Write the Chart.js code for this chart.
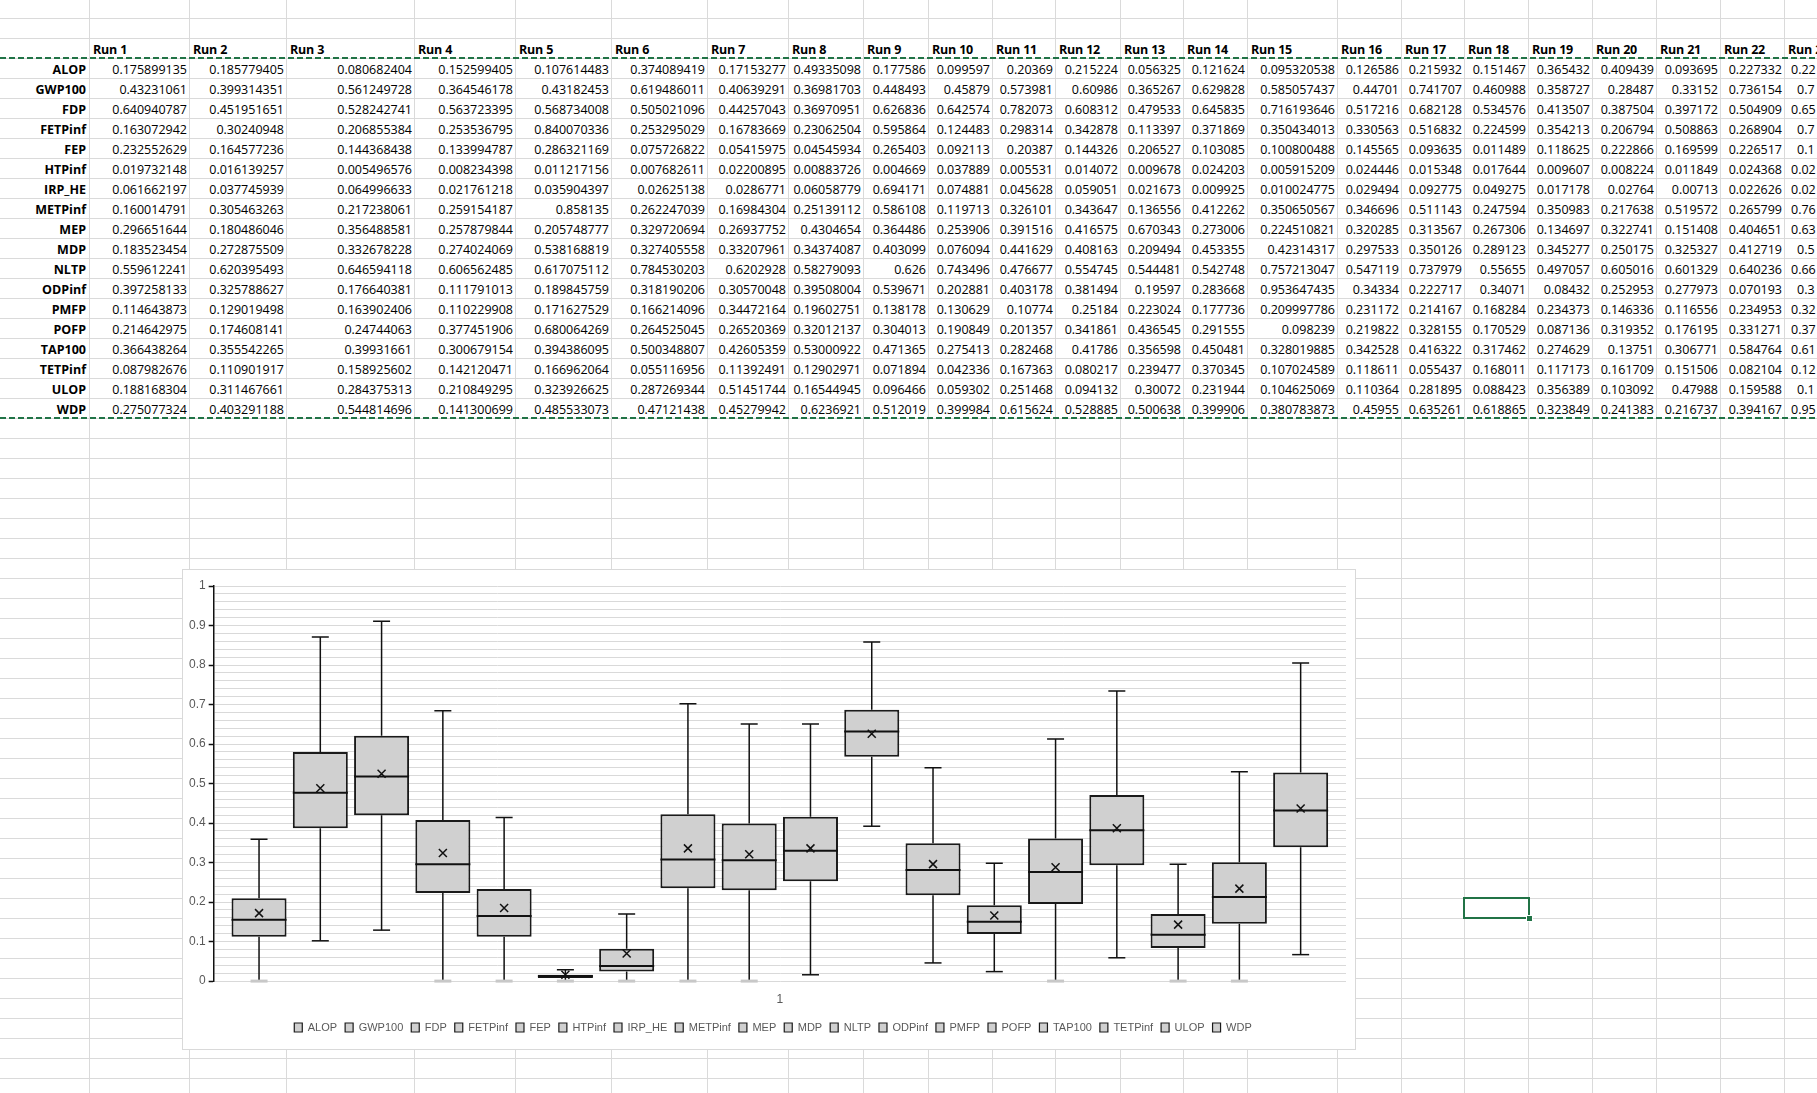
<!DOCTYPE html>
<html>
<head>
<meta charset="utf-8">
<title>Box and whisker – runs</title>
<script src="https://cdn.jsdelivr.net/npm/chart.js@4.4.1/dist/chart.umd.min.js"></script>
<style>
  html, body { margin: 0; padding: 0; background: #fff; overflow: hidden; }
  body { width: 1817px; height: 1093px; position: relative; font-family: 'Open Sans', sans-serif; }
  #sheet {
    position: absolute; left: 0; top: 0; width: 1817px; height: 1093px; overflow: hidden;
    background: repeating-linear-gradient(to bottom, transparent 0 18px, #dadada 18px 19px, transparent 19px 20px);
  }
  .vline { position: absolute; top: 0; width: 1px; height: 1093px; background: #dadada; }
  .cell {
    position: absolute; height: 20px; line-height: 23px; font-size: 12.5px; color: #000;
    white-space: nowrap; overflow: hidden; box-sizing: border-box;
  }
  .num { text-align: right; padding-right: 2px; }
  .head { font-weight: bold; padding-left: 3px; letter-spacing: -0.2px; }
  .rowlab { font-weight: bold; text-align: right; padding-right: 3px; }
  .cut { text-align: left; }
  .marquee {
    position: absolute; left: 0; width: 1817px; height: 2px;
    background: repeating-linear-gradient(to right, #217346 0 6px, transparent 6px 9px);
  }
  #chartBox {
    position: absolute; left: 182px; top: 569px; width: 1174px; height: 481px;
    box-sizing: border-box; border: 1px solid #d9d9d9; background: #fff;
  }
  #sel {
    position: absolute; left: 1463px; top: 897px; width: 67px; height: 22px;
    box-sizing: border-box; border: 2px solid #217346;
  }
  #selHandle {
    position: absolute; right: -5px; bottom: -5px; width: 5px; height: 5px;
    background: #217346; border: 1px solid #fff;
  }
</style>
</head>
<body>
<div id="sheet"></div>
<div class="marquee" style="top:57px"></div>
<div class="marquee" style="top:417px"></div>
<div id="chartBox"><canvas id="boxChart"></canvas></div>
<div id="sel"><div id="selHandle"></div></div>

<script>
// ---- data ----
const indicators = ['ALOP', 'GWP100', 'FDP', 'FETPinf', 'FEP', 'HTPinf', 'IRP_HE', 'METPinf', 'MEP',
  'MDP', 'NLTP', 'ODPinf', 'PMFP', 'POFP', 'TAP100', 'TETPinf', 'ULOP', 'WDP'];
const runLabels = ['Run 1', 'Run 2', 'Run 3', 'Run 4', 'Run 5', 'Run 6', 'Run 7', 'Run 8', 'Run 9', 'Run 10',
  'Run 11', 'Run 12', 'Run 13', 'Run 14', 'Run 15', 'Run 16', 'Run 17', 'Run 18', 'Run 19', 'Run 20',
  'Run 21', 'Run 22', 'Run 23'];

// table values, runs 1..22
const ALOP = [0.175899135, 0.185779405, 0.080682404, 0.152599405, 0.107614483, 0.374089419, 0.17153277, 0.49335098, 0.177586, 0.099597, 0.20369, 0.215224, 0.056325, 0.121624, 0.095320538, 0.126586, 0.215932, 0.151467, 0.365432, 0.409439, 0.093695, 0.227332];
const GWP100 = [0.43231061, 0.399314351, 0.561249728, 0.364546178, 0.43182453, 0.619486011, 0.40639291, 0.36981703, 0.448493, 0.45879, 0.573981, 0.60986, 0.365267, 0.629828, 0.585057437, 0.44701, 0.741707, 0.460988, 0.358727, 0.28487, 0.33152, 0.736154];
const FDP = [0.640940787, 0.451951651, 0.528242741, 0.563723395, 0.568734008, 0.505021096, 0.44257043, 0.36970951, 0.626836, 0.642574, 0.782073, 0.608312, 0.479533, 0.645835, 0.716193646, 0.517216, 0.682128, 0.534576, 0.413507, 0.387504, 0.397172, 0.504909];
const FETPinf = [0.163072942, 0.30240948, 0.206855384, 0.253536795, 0.840070336, 0.253295029, 0.16783669, 0.23062504, 0.595864, 0.124483, 0.298314, 0.342878, 0.113397, 0.371869, 0.350434013, 0.330563, 0.516832, 0.224599, 0.354213, 0.206794, 0.508863, 0.268904];
const FEP = [0.232552629, 0.164577236, 0.144368438, 0.133994787, 0.286321169, 0.075726822, 0.05415975, 0.04545934, 0.265403, 0.092113, 0.20387, 0.144326, 0.206527, 0.103085, 0.100800488, 0.145565, 0.093635, 0.011489, 0.118625, 0.222866, 0.169599, 0.226517];
const HTPinf = [0.019732148, 0.016139257, 0.005496576, 0.008234398, 0.011217156, 0.007682611, 0.02200895, 0.00883726, 0.004669, 0.037889, 0.005531, 0.014072, 0.009678, 0.024203, 0.005915209, 0.024446, 0.015348, 0.017644, 0.009607, 0.008224, 0.011849, 0.024368];
const IRP_HE = [0.061662197, 0.037745939, 0.064996633, 0.021761218, 0.035904397, 0.02625138, 0.0286771, 0.06058779, 0.694171, 0.074881, 0.045628, 0.059051, 0.021673, 0.009925, 0.010024775, 0.029494, 0.092775, 0.049275, 0.017178, 0.02764, 0.00713, 0.022626];
const METPinf = [0.160014791, 0.305463263, 0.217238061, 0.259154187, 0.858135, 0.262247039, 0.16984304, 0.25139112, 0.586108, 0.119713, 0.326101, 0.343647, 0.136556, 0.412262, 0.350650567, 0.346696, 0.511143, 0.247594, 0.350983, 0.217638, 0.519572, 0.265799];
const MEP = [0.296651644, 0.180486046, 0.356488581, 0.257879844, 0.205748777, 0.329720694, 0.26937752, 0.4304654, 0.364486, 0.253906, 0.391516, 0.416575, 0.670343, 0.273006, 0.224510821, 0.320285, 0.313567, 0.267306, 0.134697, 0.322741, 0.151408, 0.404651];
const MDP = [0.183523454, 0.272875509, 0.332678228, 0.274024069, 0.538168819, 0.327405558, 0.33207961, 0.34374087, 0.403099, 0.076094, 0.441629, 0.408163, 0.209494, 0.453355, 0.42314317, 0.297533, 0.350126, 0.289123, 0.345277, 0.250175, 0.325327, 0.412719];
const NLTP = [0.559612241, 0.620395493, 0.646594118, 0.606562485, 0.617075112, 0.784530203, 0.6202928, 0.58279093, 0.626, 0.743496, 0.476677, 0.554745, 0.544481, 0.542748, 0.757213047, 0.547119, 0.737979, 0.55655, 0.497057, 0.605016, 0.601329, 0.640236];
const ODPinf = [0.397258133, 0.325788627, 0.176640381, 0.111791013, 0.189845759, 0.318190206, 0.30570048, 0.39508004, 0.539671, 0.202881, 0.403178, 0.381494, 0.19597, 0.283668, 0.953647435, 0.34334, 0.222717, 0.34071, 0.08432, 0.252953, 0.277973, 0.070193];
const PMFP = [0.114643873, 0.129019498, 0.163902406, 0.110229908, 0.171627529, 0.166214096, 0.34472164, 0.19602751, 0.138178, 0.130629, 0.10774, 0.25184, 0.223024, 0.177736, 0.209997786, 0.231172, 0.214167, 0.168284, 0.234373, 0.146336, 0.116556, 0.234953];
const POFP = [0.214642975, 0.174608141, 0.24744063, 0.377451906, 0.680064269, 0.264525045, 0.26520369, 0.32012137, 0.304013, 0.190849, 0.201357, 0.341861, 0.436545, 0.291555, 0.098239, 0.219822, 0.328155, 0.170529, 0.087136, 0.319352, 0.176195, 0.331271];
const TAP100 = [0.366438264, 0.355542265, 0.39931661, 0.300679154, 0.394386095, 0.500348807, 0.42605359, 0.53000922, 0.471365, 0.275413, 0.282468, 0.41786, 0.356598, 0.450481, 0.328019885, 0.342528, 0.416322, 0.317462, 0.274629, 0.13751, 0.306771, 0.584764];
const TETPinf = [0.087982676, 0.110901917, 0.158925602, 0.142120471, 0.166962064, 0.055116956, 0.11392491, 0.12902971, 0.071894, 0.042336, 0.167363, 0.080217, 0.239477, 0.370345, 0.107024589, 0.118611, 0.055437, 0.168011, 0.117173, 0.161709, 0.151506, 0.082104];
const ULOP = [0.188168304, 0.311467661, 0.284375313, 0.210849295, 0.323926625, 0.287269344, 0.51451744, 0.16544945, 0.096466, 0.059302, 0.251468, 0.094132, 0.30072, 0.231944, 0.104625069, 0.110364, 0.281895, 0.088423, 0.356389, 0.103092, 0.47988, 0.159588];
const WDP = [0.275077324, 0.403291188, 0.544814696, 0.141300699, 0.485533073, 0.47121438, 0.45279942, 0.6236921, 0.512019, 0.399984, 0.615624, 0.528885, 0.500638, 0.399906, 0.380783873, 0.45955, 0.635261, 0.618865, 0.323849, 0.241383, 0.216737, 0.394167];
// run 23 is cut off by the window edge, only these leading characters show
const run23Visible = ['0.22', '0.7', '0.65', '0.7', '0.1', '0.02', '0.02', '0.76', '0.63', '0.5', '0.66', '0.3', '0.32', '0.37', '0.61', '0.12', '0.1', '0.95'];

// box plot statistics
const boxMin    = [0, 0.102, 0.129, 0, 0, 0, 0, 0, 0, 0.016, 0.392, 0.046, 0.024, 0, 0.059, 0, 0, 0.067];
const boxQ1     = [0.112, 0.387, 0.420, 0.223, 0.112, 0.008, 0.024, 0.235, 0.230, 0.253, 0.568, 0.217, 0.119, 0.195, 0.293, 0.084, 0.145, 0.339];
const boxMedian = [0.155, 0.477, 0.518, 0.296, 0.165, 0.012, 0.038, 0.308, 0.306, 0.330, 0.632, 0.281, 0.150, 0.276, 0.382, 0.117, 0.213, 0.432];
const boxQ3     = [0.210, 0.580, 0.621, 0.408, 0.233, 0.016, 0.082, 0.422, 0.399, 0.416, 0.687, 0.349, 0.192, 0.361, 0.471, 0.170, 0.301, 0.528];
const boxMax    = [0.359, 0.871, 0.911, 0.684, 0.414, 0.029, 0.170, 0.702, 0.651, 0.651, 0.858, 0.540, 0.298, 0.613, 0.734, 0.296, 0.530, 0.805];
const boxMean   = [0.172, 0.488, 0.525, 0.324, 0.185, 0.016, 0.070, 0.336, 0.321, 0.336, 0.626, 0.296, 0.166, 0.288, 0.387, 0.143, 0.234, 0.437];

// ---- spreadsheet ----
const colEdges = [0, 89, 189, 286, 414, 515, 611, 707, 788, 863, 928, 992, 1055, 1120, 1183, 1247, 1337, 1401, 1464, 1528, 1592, 1656, 1720, 1784, 1848];
const headerTop = 38, rowH = 20;
const tableRows = [ALOP, GWP100, FDP, FETPinf, FEP, HTPinf, IRP_HE, METPinf, MEP, MDP, NLTP, ODPinf, PMFP, POFP, TAP100, TETPinf, ULOP, WDP];

const sheet = document.getElementById('sheet');
colEdges.slice(1).forEach(x => {
  const v = document.createElement('div');
  v.className = 'vline';
  v.style.left = x + 'px';
  sheet.appendChild(v);
});

function addCell(col, row, text, cls, extraPad) {
  const d = document.createElement('div');
  d.className = 'cell ' + cls;
  d.style.left = (colEdges[col] + 1) + 'px';
  d.style.width = (colEdges[col + 1] - colEdges[col] - 1) + 'px';
  d.style.top = (headerTop + row * rowH) + 'px';
  if (extraPad) d.style.paddingLeft = extraPad + 'px';
  d.textContent = text;
  sheet.appendChild(d);
}

runLabels.forEach((r, j) => addCell(j + 1, 0, r, 'head'));
indicators.forEach((name, i) => {
  addCell(0, i + 1, name, 'rowlab');
  tableRows[i].forEach((v, j) => addCell(j + 1, i + 1, String(v), 'num'));
  const vis = run23Visible[i];
  addCell(23, i + 1, vis, 'cut', vis.length > 3 ? 6 : 12);
});

// ---- box and whisker chart ----
Chart.defaults.font.family = "'Liberation Sans', Arial, sans-serif";
Chart.defaults.color = '#595959';

const isMajor = v => Math.round(v * 50) % 5 === 0;

const boxParts = {
  id: 'boxParts',
  afterUpdate(chart) {
    // nudge the legend row a little to the right, like the Excel one
    if (chart.legend) { chart.legend.left += 7; chart.legend.right += 7; }
  },
  beforeDatasetsDraw(chart) {
    const ctx = chart.ctx, y = chart.scales.y;
    chart.data.datasets.forEach((ds, i) => {
      const bar = chart.getDatasetMeta(i).data[0];
      const cx = bar.x, cap = 8.5;
      const yMax = y.getPixelForValue(boxMax[i]), yQ3 = y.getPixelForValue(boxQ3[i]);
      const yMin = y.getPixelForValue(boxMin[i]), yQ1 = y.getPixelForValue(boxQ1[i]);
      ctx.save();
      ctx.strokeStyle = '#111';
      ctx.lineWidth = 1.5;
      ctx.beginPath();
      ctx.moveTo(cx, yQ3); ctx.lineTo(cx, yMax);
      ctx.moveTo(cx - cap, yMax); ctx.lineTo(cx + cap, yMax);
      ctx.moveTo(cx, yQ1); ctx.lineTo(cx, yMin);
      ctx.stroke();
      if (boxMin[i] === 0) {
        ctx.strokeStyle = '#c8c8c8';
        ctx.lineWidth = 3;
      }
      ctx.beginPath();
      ctx.moveTo(cx - cap, yMin); ctx.lineTo(cx + cap, yMin);
      ctx.stroke();
      ctx.restore();
    });
  },
  afterDatasetsDraw(chart) {
    const ctx = chart.ctx, y = chart.scales.y;
    chart.data.datasets.forEach((ds, i) => {
      const bar = chart.getDatasetMeta(i).data[0];
      const half = bar.width / 2, cx = bar.x;
      const yMed = y.getPixelForValue(boxMedian[i]);
      const yAvg = y.getPixelForValue(boxMean[i]);
      ctx.save();
      ctx.strokeStyle = '#111';
      ctx.lineWidth = 2;
      ctx.beginPath();
      ctx.moveTo(cx - half, yMed); ctx.lineTo(cx + half, yMed);
      ctx.stroke();
      ctx.lineWidth = 1.5;
      ctx.beginPath();
      ctx.moveTo(cx - 4, yAvg - 4); ctx.lineTo(cx + 4, yAvg + 4);
      ctx.moveTo(cx + 4, yAvg - 4); ctx.lineTo(cx - 4, yAvg + 4);
      ctx.stroke();
      ctx.restore();
    });
  }
};

const datasets = indicators.map((name, i) => ({
  label: name,
  data: [[boxQ1[i], boxQ3[i]]],
  backgroundColor: '#d0d0d0',
  borderColor: '#1a1a1a',
  borderWidth: 2,
  borderSkipped: false,
  categoryPercentage: 0.974,
  barPercentage: 0.898
}));

new Chart(document.getElementById('boxChart'), {
  type: 'bar',
  data: { labels: ['1'], datasets },
  plugins: [boxParts],
  options: {
    responsive: true,
    maintainAspectRatio: false,
    animation: false,
    events: [],
    layout: { padding: { left: 3, right: 9, top: 16, bottom: 6 } },
    scales: {
      x: {
        grid: { display: false, drawTicks: false },
        border: { display: false },
        ticks: { padding: 11, font: { size: 12 } },
        afterFit(scale) { scale.height -= 3.5; }
      },
      y: {
        min: 0,
        max: 1,
        ticks: {
          stepSize: 0.02,
          autoSkip: false,
          padding: 3,
          font: { size: 12 },
          callback: v => isMajor(v) ? String(Math.round(v * 10) / 10) : ''
        },
        grid: {
          color: '#d9d9d9',
          lineWidth: 1,
          tickLength: 5,
          tickWidth: 1.5,
          tickColor: c => (c.tick && isMajor(c.tick.value)) ? '#111' : 'rgba(0,0,0,0)'
        },
        border: { color: '#111', width: 1.5 }
      }
    },
    plugins: {
      tooltip: { enabled: false },
      legend: {
        position: 'bottom',
        labels: {
          boxWidth: 8,
          boxHeight: 9,
          padding: 8,
          color: '#595959',
          font: { size: 11 },
          generateLabels(chart) {
            const items = Chart.defaults.plugins.legend.labels.generateLabels(chart);
            items.forEach(it => { it.lineWidth = 1.2; });
            return items;
          }
        }
      }
    }
  }
});
</script>
</body>
</html>
